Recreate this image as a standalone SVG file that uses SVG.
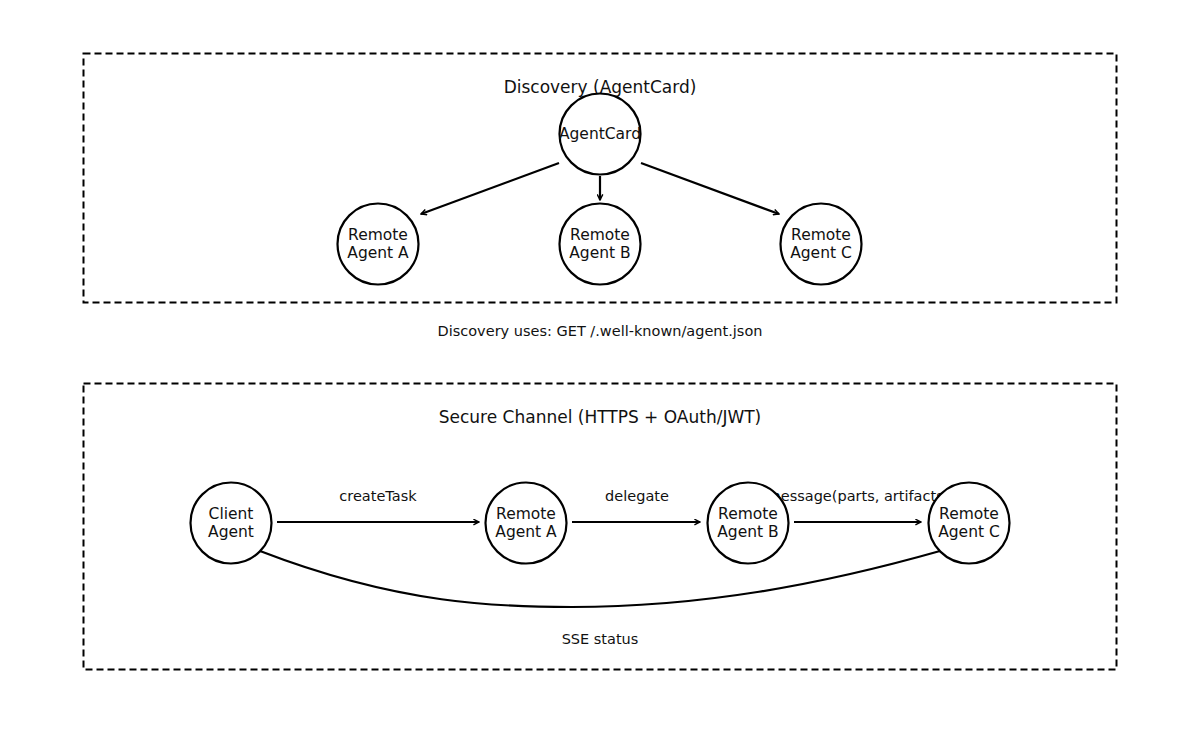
<svg xmlns="http://www.w3.org/2000/svg" width="1200" height="752" viewBox="0 0 1200 752">
<defs>
<marker id="ah" viewBox="0 0 10 10" refX="9" refY="5" markerWidth="7" markerHeight="7" orient="auto" markerUnits="userSpaceOnUse"><path d="M1,1 L9,5 L1,9" fill="none" stroke="#000" stroke-width="2"/></marker>
<style>
.box{fill:none;stroke:#000;stroke-width:2;stroke-dasharray:7,4}
.n{fill:#fff;stroke:#000;stroke-width:2.2}
text{font-family:"DejaVu Sans",sans-serif;fill:#111;text-anchor:middle}
.t{font-size:17px}.l{font-size:15.5px}.e{font-size:14.5px}
.c{stroke:#000;stroke-width:2.2;fill:none}
.a{marker-end:url(#ah)}
</style>
</defs>
<rect width="1200" height="752" fill="#fff"/>
<rect class="box" x="83.5" y="53.5" width="1033" height="249"/>
<rect class="box" x="83.5" y="383.5" width="1033" height="286"/>
<text class="t" x="600" y="93">Discovery (AgentCard)</text>
<text class="e" x="600" y="336">Discovery uses: GET /.well-known/agent.json</text>
<text class="t" x="600" y="423">Secure Channel (HTTPS + OAuth/JWT)</text>
<g id="connectors">
<line class="c a" x1="559" y1="163" x2="421" y2="214"/>
<line class="c a" x1="600" y1="176" x2="600" y2="200"/>
<line class="c a" x1="641" y1="163" x2="779" y2="214"/>
<line class="c a" x1="277" y1="522" x2="479" y2="522"/>
<line class="c a" x1="572" y1="522" x2="700" y2="522"/>
<line class="c a" x1="794" y1="522" x2="921" y2="522"/>
<path class="c" d="M260,551 C400,605 500,607 572,607 C700,607 820,585 940,551"/>
<text class="e" x="378" y="501">createTask</text>
<text class="e" x="637" y="501">delegate</text>
<text class="e" x="858" y="501">message(parts, artifacts)</text>
<text class="e" x="600" y="644">SSE status</text>
</g>
<g id="agentcard"><circle class="n" cx="600" cy="134" r="40.5"/><text class="l" x="600" y="139">AgentCard</text></g>
<g id="topA"><circle class="n" cx="378" cy="244" r="40.5"/><text class="l" x="378" y="240">Remote</text><text class="l" x="378" y="258">Agent A</text></g>
<g id="topB"><circle class="n" cx="600" cy="244" r="40.5"/><text class="l" x="600" y="240">Remote</text><text class="l" x="600" y="258">Agent B</text></g>
<g id="topC"><circle class="n" cx="821" cy="244" r="40.5"/><text class="l" x="821" y="240">Remote</text><text class="l" x="821" y="258">Agent C</text></g>
<g id="client"><circle class="n" cx="231" cy="523" r="40.5"/><text class="l" x="231" y="519">Client</text><text class="l" x="231" y="537">Agent</text></g>
<g id="botA"><circle class="n" cx="526" cy="523" r="40.5"/><text class="l" x="526" y="519">Remote</text><text class="l" x="526" y="537">Agent A</text></g>
<g id="botB"><circle class="n" cx="748" cy="523" r="40.5"/><text class="l" x="748" y="519">Remote</text><text class="l" x="748" y="537">Agent B</text></g>
<g id="botC"><circle class="n" cx="969" cy="523" r="40.5"/><text class="l" x="969" y="519">Remote</text><text class="l" x="969" y="537">Agent C</text></g>
</svg>
